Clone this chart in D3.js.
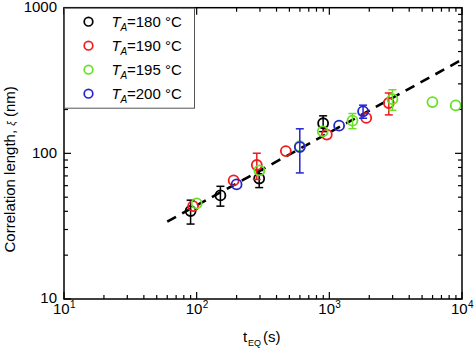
<!DOCTYPE html>
<html>
<head>
<meta charset="utf-8">
<script src="https://cdn.jsdelivr.net/npm/d3@7"></script>
<style>
  html, body { margin: 0; height: 100%; background: #fff; overflow: hidden; }
  #chart { width: 100%; height: 100%; }
  svg { display: block; font-family: "Liberation Sans", Arial, sans-serif; }
</style>
</head>
<body>
<div id="chart"></div>
<script>
// Correlation length vs equilibration time, log-log, four annealing temperatures

const seriesLabels = ["180 °C", "190 °C", "195 °C", "200 °C"];
const seriesColors = ["#000000", "#ee1c1c", "#66e022", "#2424d0"];

// time (s), xi (nm), error (nm, 0 = no visible bar)
const t180 = [90, 151, 296, 898];
const xi180 = [40.2, 51.4, 67.2, 161];
const err180 = [7.5, 8, 9, 20];

const t190 = [94, 190, 284, 470, 957, 1897, 2806];
const xi190 = [43.4, 65.2, 83.2, 103.7, 134.5, 175, 221.7];
const err190 = [0, 0, 17, 0, 0, 0, 38];

const t195 = [100, 297, 599, 892, 1494, 2990, 5985, 8966];
const xi195 = [45.3, 76.3, 112, 141.7, 167.7, 235.4, 225, 213.4];
const err195 = [0, 0, 0, 0, 20, 38, 0, 0];

const t200 = [200, 599, 1185, 1796];
const xi200 = [61.2, 110.4, 155, 194.2];
const err200 = [0, 37, 0, 20];

// dashed power-law guide, endpoints
const fitT = [60, 10000];
const fitXi = [34, 440];

const xTickExps = [1, 2, 3, 4];
const yTickValues = [10, 100, 1000];

const width = 474, height = 351;
const margin = { top: 7.7, right: 12, bottom: 52, left: 64 };
const innerWidth = width - margin.left - margin.right;
const innerHeight = height - margin.top - margin.bottom;

// viewBox keeps the whole drawing inside whatever window it gets
const svg = d3.select("#chart").append("svg")
  .attr("viewBox", `0 0 ${width} ${height}`)
  .attr("width", "100%")
  .attr("height", "100%");

const g = svg.append("g")
  .attr("transform", `translate(${margin.left},${margin.top})`);

const x = d3.scaleLog().domain([10, 10000]).range([0, innerWidth]);
const y = d3.scaleLog().domain([10, 1000]).range([innerHeight, 0]);

// minor + major tick values
const xMinor = [];
for (let d = 10; d < 10000; d *= 10) for (let k = 2; k <= 9; k++) xMinor.push(d * k);
const yMinor = [];
for (let d = 10; d < 1000; d *= 10) for (let k = 2; k <= 9; k++) yMinor.push(d * k);
const xMajor = xTickExps.map(e => Math.pow(10, e));

// inward ticks on all four sides
const tickG = g.append("g").attr("stroke", "#000").attr("stroke-width", 1.2);
const addTicks = (vals, len, isX) => {
  vals.forEach(v => {
    if (isX) {
      const px = x(v);
      tickG.append("line").attr("x1", px).attr("x2", px).attr("y1", innerHeight).attr("y2", innerHeight - len);
      tickG.append("line").attr("x1", px).attr("x2", px).attr("y1", 0).attr("y2", len);
    } else {
      const py = y(v);
      tickG.append("line").attr("x1", 0).attr("x2", len).attr("y1", py).attr("y2", py);
      tickG.append("line").attr("x1", innerWidth).attr("x2", innerWidth - len).attr("y1", py).attr("y2", py);
    }
  });
};
addTicks(xMinor, 4, true);
addTicks(xMajor, 7, true);
addTicks(yMinor, 4, false);
addTicks(yTickValues, 7, false);

// x tick labels 10^n, base and exponent as separate texts
xTickExps.forEach(e => {
  const px = x(Math.pow(10, e));
  g.append("text")
    .attr("x", px - 11)
    .attr("y", innerHeight + 15.5)
    .style("font-size", "15px")
    .text("10");
  g.append("text")
    .attr("x", px + 6)
    .attr("y", innerHeight + 9)
    .style("font-size", "10px")
    .text(e);
});

// y tick labels
yTickValues.forEach(v => {
  g.append("text")
    .attr("x", -7)
    .attr("y", y(v))
    .attr("dy", "0.3em")
    .attr("text-anchor", "end")
    .style("font-size", "15px")
    .text(v);
});

// x axis title: t_EQ (s)
svg.append("text").attr("x", 243).attr("y", 342).style("font-size", "15px").text("t");
svg.append("text").attr("x", 248).attr("y", 346).style("font-size", "9px").text("EQ");
svg.append("text").attr("x", 263).attr("y", 342).style("font-size", "15px").text("(s)");

// y axis title
const yl = svg.append("text")
  .attr("transform", `translate(15,${margin.top + innerHeight / 2 + 16}) rotate(-90)`)
  .attr("text-anchor", "middle")
  .style("font-size", "15px");
yl.append("tspan").text("Correlation length, ");
yl.append("tspan").style("font-size", "10px").style("font-style", "italic").text("ξ");
yl.append("tspan").text(" (nm)");

// dashed guide line
g.append("path")
  .datum(fitT.map((t, i) => [t, fitXi[i]]))
  .attr("fill", "none")
  .attr("stroke", "#000")
  .attr("stroke-width", 2.6)
  .attr("stroke-dasharray", "10,7")
  .attr("d", d3.line().x(d => x(d[0])).y(d => y(d[1])));

// data series
const series = [
  { t: t180, xi: xi180, err: err180 },
  { t: t190, xi: xi190, err: err190 },
  { t: t195, xi: xi195, err: err195 },
  { t: t200, xi: xi200, err: err200 }
];

series.forEach((s, si) => {
  const color = seriesColors[si];
  const pts = s.t.map((t, i) => ({ t, xi: s.xi[i], err: s.err[i] }));
  const sg = g.append("g");

  const bars = sg.selectAll(".eb").data(pts.filter(d => d.err > 0)).join("g")
    .attr("stroke", color).attr("stroke-width", 1.5).attr("fill", "none");
  bars.append("line")
    .attr("x1", d => x(d.t)).attr("x2", d => x(d.t))
    .attr("y1", d => y(d.xi + d.err)).attr("y2", d => y(d.xi - d.err));
  bars.append("line")
    .attr("x1", d => x(d.t) - 4).attr("x2", d => x(d.t) + 4)
    .attr("y1", d => y(d.xi + d.err)).attr("y2", d => y(d.xi + d.err));
  bars.append("line")
    .attr("x1", d => x(d.t) - 4).attr("x2", d => x(d.t) + 4)
    .attr("y1", d => y(d.xi - d.err)).attr("y2", d => y(d.xi - d.err));

  sg.selectAll("circle").data(pts).join("circle")
    .attr("cx", d => x(d.t))
    .attr("cy", d => y(d.xi))
    .attr("r", 5)
    .attr("fill", "none")
    .attr("stroke", color)
    .attr("stroke-width", 1.8);
});

// legend
const lg = svg.append("g");
lg.append("rect")
  .attr("x", margin.left + 0.5).attr("y", margin.top + 0.5)
  .attr("width", 130).attr("height", 100)
  .attr("fill", "#fff")
  .attr("stroke", "#555")
  .attr("stroke-width", 1);

seriesLabels.forEach((lab, i) => {
  const cy = 21.7 + i * 24;
  lg.append("circle")
    .attr("cx", 88.5).attr("cy", cy).attr("r", 4.3)
    .attr("fill", "none").attr("stroke", seriesColors[i]).attr("stroke-width", 1.7);
  lg.append("text").attr("x", 111.5).attr("y", cy + 5.5)
    .style("font-size", "15px").style("font-style", "italic").text("T");
  lg.append("text").attr("x", 120.5).attr("y", cy + 9.5)
    .style("font-size", "10px").style("font-style", "italic").text("A");
  lg.append("text").attr("x", 127).attr("y", cy + 5.5)
    .style("font-size", "15px").text("=" + lab);
});

// plot frame
g.append("rect")
  .attr("width", innerWidth).attr("height", innerHeight)
  .attr("fill", "none")
  .attr("stroke", "#000")
  .attr("stroke-width", 1.5);
</script>
</body>
</html>
